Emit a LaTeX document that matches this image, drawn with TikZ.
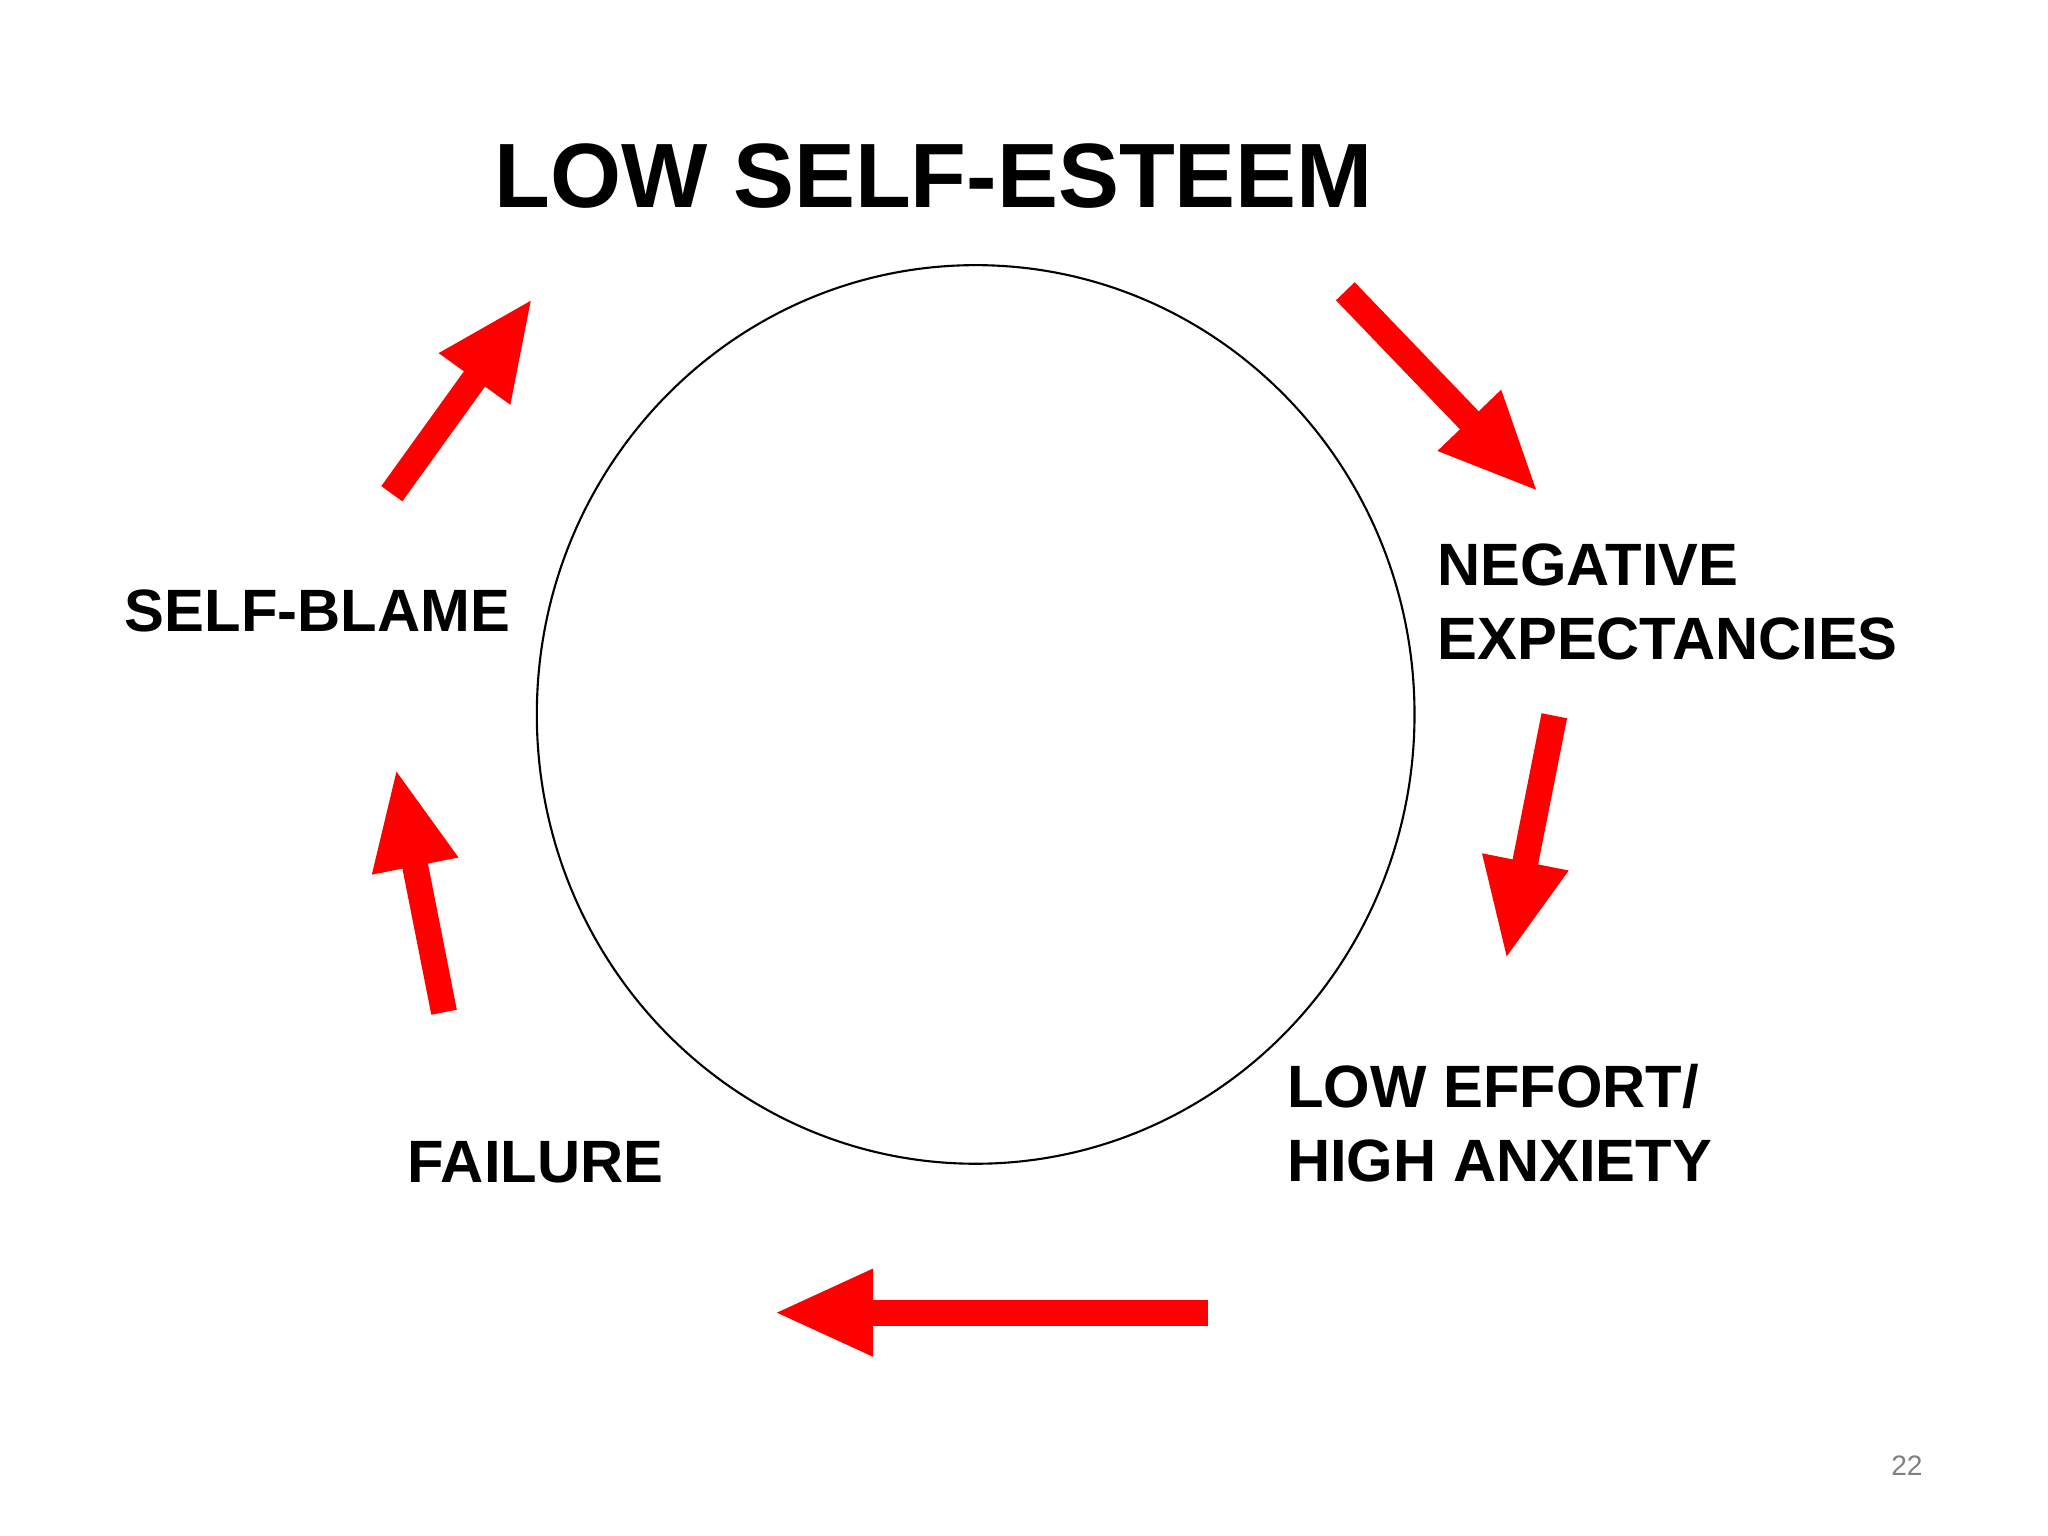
\documentclass[tikz,border=0pt]{standalone}
\usepackage{fontspec}
\setmainfont{Liberation Sans}
\usetikzlibrary{arrows.meta}
\begin{document}
\begin{tikzpicture}[x=0.01306cm,y=-0.01306cm,
  lbl/.style={font=\bfseries\fontsize{17}{21}\selectfont,inner sep=0pt},
  fat/.style={draw=red,line width=0.26cm,-{Triangle[width=0.8cm,length=1.0cm]}}]
\useasboundingbox (0,0) rectangle (1568,1176);
\fill[white] (0,0) rectangle (1568,1176);
\draw[line width=0.6pt] (747,547) ellipse [x radius=336, y radius=344];
\node[font=\bfseries\fontsize{26}{30}\selectfont,inner sep=0pt] (title) at (715,135) {LOW SELF-ESTEEM};
\node[lbl] (blame) at (243,468) {SELF-BLAME};
\node[lbl,anchor=west,align=left] (neg) at (1100,461) {NEGATIVE\\EXPECTANCIES};
\node[lbl,anchor=west,align=left] (low) at (985,860) {LOW EFFORT/\\HIGH ANXIETY};
\node[lbl] (fail) at (410,890) {FAILURE};
\node[font=\fontsize{8}{10}\selectfont,text=gray,inner sep=0pt] (pg) at (1460,1122) {22};
\coordinate (a1) at (300,378); \coordinate (b1) at (408,228);
\coordinate (a2) at (1030,223); \coordinate (b2) at (1178,377);
\coordinate (a3) at (1190,548); \coordinate (b3) at (1153,735);
\coordinate (a4) at (925,1005); \coordinate (b4) at (592,1005);
\coordinate (a5) at (340,775); \coordinate (b5) at (303,588);
\foreach \i in {1,...,5} \draw[fat] (a\i) -- (b\i);
\end{tikzpicture}
\end{document}
